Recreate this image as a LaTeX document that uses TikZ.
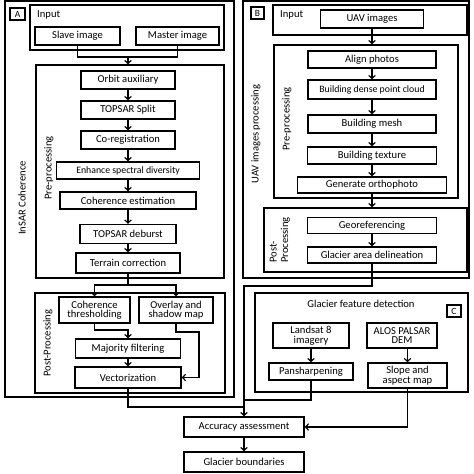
\documentclass[tikz,border=0pt]{standalone}
\usepackage{fontspec}
\setmainfont{Carlito}
\usetikzlibrary{arrows.meta}
\begin{document}
\begin{tikzpicture}[x=1pt,y=-1pt]
\tikzset{
 bx/.style={draw, line width=1.5pt, inner sep=1pt, align=center, font=\fontsize{10.6}{11.5}\selectfont},
 sm/.style={font=\fontsize{9.8}{11}\selectfont},
 frame/.style={draw, line width=1.5pt, inner sep=0pt},
 arr/.style={-{Straight Barb[length=3pt,width=6.5pt]}, line width=1.2pt},
 ln/.style={line width=1.2pt},
 lab/.style={font=\fontsize{10.6}{11.5}\selectfont, inner sep=0pt},
 tag/.style={draw, line width=1.5pt, inner sep=0pt, font=\fontsize{9.5}{10}\selectfont}
}
\useasboundingbox (0,0) rectangle (474,474);
% ---------- A ----------
\node[frame, minimum width=229pt, minimum height=396pt] (outA) at (119.5,199) {};
\node[tag, minimum width=15pt, minimum height=12pt] (tagA) at (17.5,14) {A};
\node[frame, minimum width=194pt, minimum height=45pt] (inA) at (127,27.5) {};
\node[lab, anchor=west] (inAt) at (37,15) {Input};
\node[bx, minimum width=85pt, minimum height=18pt] (slave) at (77.5,36) {Slave image};
\node[bx, minimum width=83pt, minimum height=18pt] (master) at (177.5,36) {Master image};
\node[frame, minimum width=188pt, minimum height=213pt] (preA) at (130,171.5) {};
\node[bx, minimum width=94pt, minimum height=18pt] (orbit) at (128,80) {Orbit auxiliary};
\node[bx, minimum width=94pt, minimum height=18pt] (split) at (128,110) {TOPSAR Split};
\node[bx, minimum width=94pt, minimum height=18pt] (coreg) at (128,140) {Co-registration};
\node[bx, sm, minimum width=143pt, minimum height=17pt] (esd) at (128,170.5) {Enhance spectral diversity};
\node[bx, minimum width=136pt, minimum height=17pt] (cohest) at (128,200.5) {Coherence estimation};
\node[bx, minimum width=96pt, minimum height=19pt] (deburst) at (128,234) {TOPSAR deburst};
\node[bx, minimum width=104pt, minimum height=20pt] (terrain) at (128,263) {Terrain correction};
\node[frame, minimum width=190pt, minimum height=100pt] (postA) at (130,343) {};
\node[bx, minimum width=71pt, minimum height=26pt] (cthr) at (94.5,310) {Coherence\\[-2pt]thresholding};
\node[bx, minimum width=74pt, minimum height=26pt] (ovl) at (176,310) {Overlay and\\[-2pt]shadow map};
\node[bx, minimum width=105pt, minimum height=19pt] (maj) at (128,348.5) {Majority filtering};
\node[bx, minimum width=106pt, minimum height=21pt] (vec) at (128,377.5) {Vectorization};
\node[lab, rotate=90] (labA) at (22,198) {InSAR Coherence};
\node[lab, rotate=90] (labApre) at (49,168) {Pre-processing};
\node[lab, rotate=90] (labApost) at (48,343) {Post-Processing};
% A connectors
\coordinate (jin) at (128,57);
\draw[ln] (slave.south) |- (jin);
\draw[ln] (master.south) |- (jin);
\draw[arr] (jin) -- (jin |- preA.north);
\draw[arr] (orbit) -- (split);
\draw[arr] (split) -- (coreg);
\draw[arr] (coreg) -- (esd);
\draw[arr] (esd) -- (cohest);
\draw[arr] (cohest) -- (deburst);
\draw[arr] (deburst) -- (terrain);
\coordinate (sp) at (128,285);
\draw[ln] (terrain.south) -- (sp);
\draw[arr] (sp) -| (cthr.north);
\draw[arr] (sp) -| (ovl.north);
\coordinate (c1) at (94.5,330);
\draw[arr] (cthr.south) -- (c1) -| (maj.north);
\draw[arr] (maj) -- (vec);
\coordinate (o1) at (176,332);
\coordinate (o2) at (199,332);
\draw[arr] (ovl.south) -- (o1) -- (o2) |- (vec.east);
% ---------- B ----------
\node[frame, minimum width=226pt, minimum height=277pt] (outB) at (356,139.5) {};
\node[tag, minimum width=13pt, minimum height=12pt] (tagB) at (257.5,13) {B};
\node[frame, minimum width=194pt, minimum height=30pt] (inB) at (370,20) {};
\node[lab, anchor=west] (inBt) at (280,15) {Input};
\node[bx, minimum width=103pt, minimum height=18pt] (uav) at (372,19) {UAV images};
\node[frame, minimum width=184pt, minimum height=153pt] (preB) at (366,121.5) {};
\node[bx, minimum width=128pt, minimum height=17pt] (align) at (372,59.5) {Align photos};
\node[bx, sm, minimum width=128pt, minimum height=19pt] (dense) at (372,89.5) {Building dense point cloud};
\node[bx, minimum width=128pt, minimum height=18pt] (mesh) at (372,124) {Building mesh};
\node[bx, minimum width=129pt, minimum height=17pt] (texture) at (372,155.5) {Building texture};
\node[bx, minimum width=149pt, minimum height=16pt] (ortho) at (372,185) {Generate orthophoto};
\node[frame, minimum width=203pt, minimum height=64pt] (postB) at (365.5,240) {};
\node[bx, minimum width=129pt, minimum height=16pt] (georef) at (372,225.5) {Georeferencing};
\node[bx, minimum width=129pt, minimum height=16pt] (gad) at (372,255) {Glacier area delineation};
\node[lab, rotate=90] (labB) at (256,134) {UAV images processing};
\node[lab, rotate=90] (labBpre) at (287,119) {Pre-processing};
\node[lab, rotate=90, align=left] (labBpost) at (280,240) {Post-\\Processing};
% B connectors
\draw[arr] (uav.south) -- (uav.south |- preB.north);
\draw[arr] (align) -- (dense);
\draw[arr] (dense) -- (mesh);
\draw[arr] (mesh) -- (texture);
\draw[arr] (texture) -- (ortho);
\draw[arr] (ortho.south) -- (ortho.south |- postB.north);
\draw[arr] (georef) -- (gad);
% ---------- C ----------
\node[frame, minimum width=213pt, minimum height=99pt] (boxC) at (361.5,342.5) {};
\node[lab] (labC) at (361,304) {Glacier feature detection};
\node[tag, minimum width=14pt, minimum height=12pt] (tagC) at (454,311) {C};
\node[bx, minimum width=76pt, minimum height=25pt] (landsat) at (311,335.5) {Landsat 8\\[-2pt]imagery};
\node[bx, minimum width=70pt, minimum height=25pt] (alos) at (402,335.5) {ALOS PALSAR\\[-2pt]DEM};
\node[bx, minimum width=84pt, minimum height=17pt] (pan) at (311,371.5) {Pansharpening};
\node[bx, minimum width=79pt, minimum height=25pt] (slope) at (407.5,375.5) {Slope and\\[-2pt]aspect map};
\draw[arr] (landsat) -- (pan);
\draw[arr] (alos.south -| slope.north) -- (slope.north);
% ---------- bottom ----------
\node[bx, minimum width=120pt, minimum height=20pt] (acc) at (244,427) {Accuracy assessment};
\node[bx, minimum width=120pt, minimum height=20pt] (gb) at (244,462) {Glacier boundaries};
\coordinate (jB) at (244,286);
\coordinate (jv) at (244,407);
\coordinate (jp) at (244,400);
\draw[arr] (gad.south) |- (jB) -- (acc.north);
\draw[ln] (vec.south) |- (jv);
\draw[ln] (pan.south) |- (jp);
\draw[arr] (slope.south) |- (acc.east);
\draw[arr] (acc) -- (gb);
\end{tikzpicture}
\end{document}
